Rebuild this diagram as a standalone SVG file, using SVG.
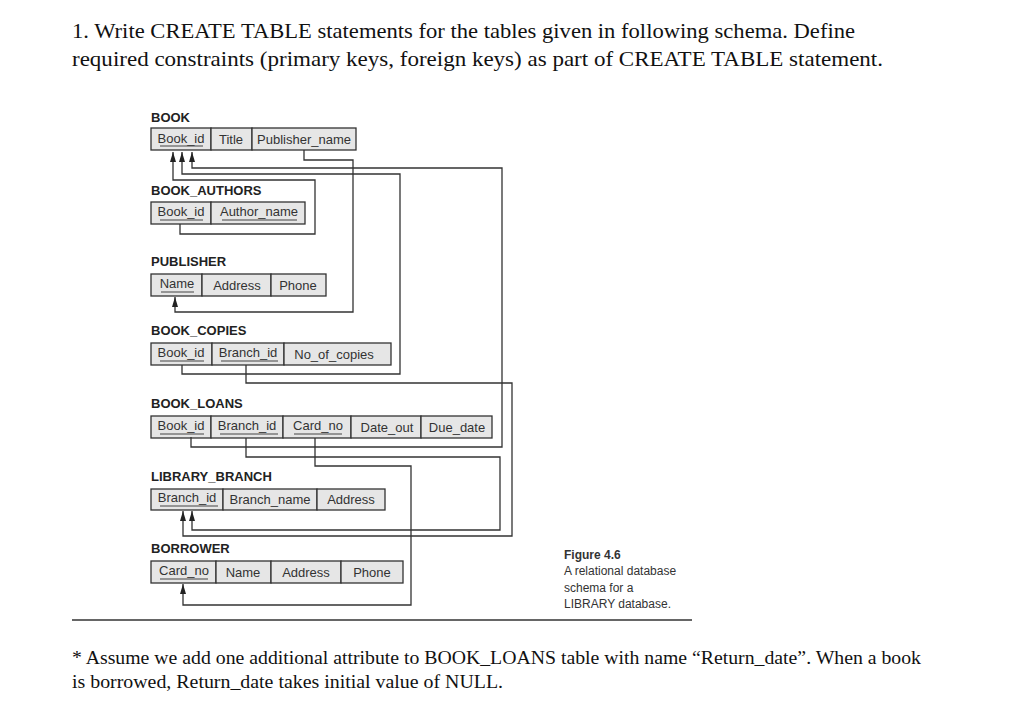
<svg xmlns="http://www.w3.org/2000/svg" width="1024" height="702" viewBox="0 0 1024 702">
<style>
.q{font-family:"Liberation Serif",serif;font-size:21px;fill:#111}
.b{font-family:"Liberation Serif",serif;font-size:19px;fill:#111}
.t{font-family:"Liberation Sans",Arial,sans-serif;font-size:13px;font-weight:bold;fill:#222}
.c{fill:#e6e6e6;stroke:#333;stroke-width:1.3}
.f{font-family:"Liberation Sans",Arial,sans-serif;font-size:13px;fill:#333;text-anchor:middle}
.u{stroke:#444;stroke-width:1}
.l{fill:none;stroke:#333;stroke-width:1.3}
.cap{font-family:"Liberation Sans",Arial,sans-serif;font-size:12px;fill:#333}
</style>
<defs><marker id="a" viewBox="0 0 10 6" refX="10" refY="3" markerWidth="10" markerHeight="6" orient="auto" markerUnits="userSpaceOnUse"><path d="M0,0 L10,3 L0,6 Z" fill="#222"/></marker></defs>
<rect width="1024" height="702" fill="#fff"/>
<text class="q" x="72" y="38" textLength="783" lengthAdjust="spacingAndGlyphs">1. Write CREATE TABLE statements for the tables given in following schema. Define</text>
<text class="q" x="72" y="66" textLength="811" lengthAdjust="spacingAndGlyphs">required constraints (primary keys, foreign keys) as part of CREATE TABLE statement.</text>
<g id="book"><text class="t" x="151" y="122">BOOK</text>
<rect class="c" x="151" y="128" width="60" height="22"/><rect class="c" x="211" y="128" width="41" height="22"/><rect class="c" x="252" y="128" width="104" height="22"/>
<text class="f" x="181" y="143">Book_id</text><line class="u" x1="160" y1="146" x2="203" y2="146"/><text class="f" x="231" y="144">Title</text><text class="f" x="304" y="144">Publisher_name</text></g>
<g id="book_authors"><text class="t" x="151" y="195">BOOK_AUTHORS</text>
<rect class="c" x="151" y="202" width="60" height="22"/><rect class="c" x="211" y="202" width="94" height="22"/>
<text class="f" x="181" y="216">Book_id</text><line class="u" x1="160" y1="220" x2="203" y2="220"/><text class="f" x="259" y="216">Author_name</text><line class="u" x1="222" y1="220" x2="297" y2="220"/></g>
<g id="publisher"><text class="t" x="151" y="266">PUBLISHER</text>
<rect class="c" x="151" y="274" width="51" height="22"/><rect class="c" x="202" y="274" width="69" height="22"/><rect class="c" x="271" y="274" width="55" height="22"/>
<text class="f" x="177" y="288">Name</text><line class="u" x1="161" y1="292" x2="194" y2="292"/><text class="f" x="237" y="290">Address</text><text class="f" x="298" y="290">Phone</text></g>
<g id="book_copies"><text class="t" x="151" y="335">BOOK_COPIES</text>
<rect class="c" x="151" y="343" width="61" height="22"/><rect class="c" x="212" y="343" width="72" height="22"/><rect class="c" x="284" y="343" width="107" height="22"/>
<text class="f" x="181" y="357">Book_id</text><line class="u" x1="160" y1="361" x2="204" y2="361"/><text class="f" x="248" y="357">Branch_id</text><line class="u" x1="221" y1="361" x2="278" y2="361"/><text class="f" x="334" y="359">No_of_copies</text></g>
<g id="book_loans"><text class="t" x="151" y="408">BOOK_LOANS</text>
<rect class="c" x="151" y="416" width="60" height="22"/><rect class="c" x="211" y="416" width="72" height="22"/><rect class="c" x="283" y="416" width="68" height="22"/><rect class="c" x="351" y="416" width="70" height="22"/><rect class="c" x="421" y="416" width="71" height="22"/>
<text class="f" x="181" y="430">Book_id</text><line class="u" x1="160" y1="434" x2="204" y2="434"/><text class="f" x="247" y="430">Branch_id</text><line class="u" x1="220" y1="434" x2="278" y2="434"/><text class="f" x="318" y="430">Card_no</text><line class="u" x1="294" y1="434" x2="342" y2="434"/><text class="f" x="387" y="432">Date_out</text><text class="f" x="457" y="432">Due_date</text></g>
<g id="library_branch"><text class="t" x="151" y="481">LIBRARY_BRANCH</text>
<rect class="c" x="151" y="489" width="72" height="21"/><rect class="c" x="223" y="489" width="94" height="21"/><rect class="c" x="317" y="489" width="68" height="21"/>
<text class="f" x="187" y="502">Branch_id</text><line class="u" x1="160" y1="506" x2="218" y2="506"/><text class="f" x="270" y="504">Branch_name</text><text class="f" x="351" y="504">Address</text></g>
<g id="borrower"><text class="t" x="151" y="553">BORROWER</text>
<rect class="c" x="151" y="561" width="65" height="22"/><rect class="c" x="216" y="561" width="55" height="22"/><rect class="c" x="271" y="561" width="70" height="22"/><rect class="c" x="341" y="561" width="62" height="22"/>
<text class="f" x="184" y="575">Card_no</text><line class="u" x1="160" y1="579" x2="208" y2="579"/><text class="f" x="243" y="577">Name</text><text class="f" x="306" y="577">Address</text><text class="f" x="372" y="577">Phone</text></g>
<g id="connectors">
<polyline class="l" points="304,150 304,160 353,160 353,312 175,312 175,297" marker-end="url(#a)"/>
<polyline class="l" points="191,437 191,447 502,447 502,168 192,168 192,152" marker-end="url(#a)"/>
<polyline class="l" points="182,365 182,374 400,374 400,174 182,174 182,152" marker-end="url(#a)"/>
<polyline class="l" points="180,224 180,234 315,234 315,180 173,180 173,152" marker-end="url(#a)"/>
<polyline class="l" points="246,365 246,383 512,383 512,536 183,536 183,511" marker-end="url(#a)"/>
<polyline class="l" points="246,438 246,457 500,457 500,530 192,530 192,511" marker-end="url(#a)"/>
<polyline class="l" points="315,438 315,466 411,466 411,605 183,605 183,584" marker-end="url(#a)"/>
</g>
<text class="cap" x="564" y="559" font-weight="bold">Figure 4.6</text>
<text class="cap" x="564" y="575">A relational database</text>
<text class="cap" x="564" y="592">schema for a</text>
<text class="cap" x="564" y="608">LIBRARY database.</text>
<line x1="72" y1="620" x2="692" y2="620" stroke="#333" stroke-width="1.3"/>
<text class="b" x="72" y="664" textLength="849" lengthAdjust="spacingAndGlyphs">* Assume we add one additional attribute to BOOK_LOANS table with name “Return_date”. When a book</text>
<text class="b" x="72" y="688" textLength="431" lengthAdjust="spacingAndGlyphs">is borrowed, Return_date takes initial value of NULL.</text>
</svg>
